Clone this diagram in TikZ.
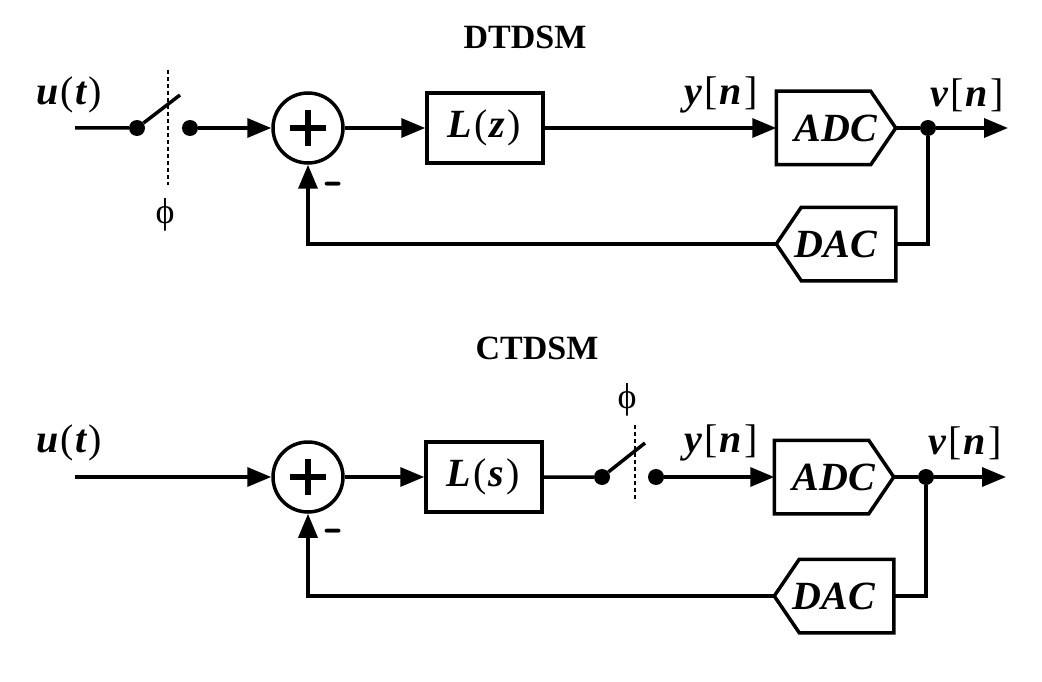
\documentclass[tikz,border=0pt]{standalone}
\usepackage{fontspec}
\setmainfont{Liberation Serif}
\usetikzlibrary{arrows.meta}
\tikzset{
  wire/.style = {line width=3.5pt},
  sig/.style = {wire, -{Triangle[length=24pt,width=19pt]}},
  blk/.style = {draw, line width=3.5pt, minimum width=116pt, minimum height=70pt,
    inner sep=0pt, font=\fontsize{40}{40}\selectfont\bfseries\itshape},% bloc
  conv/.style = {blk, draw=none},% convertisseur, contour trace a part
  sum/.style = {draw, circle, line width=3.5pt, minimum size=70pt, inner sep=0pt},% sommateur
  dot/.style = {circle, fill, inner sep=0pt, minimum size=16pt},
  lbl/.style = {font=\fontsize{40}{40}\selectfont\bfseries\itshape},
  neg/.style = {font=\fontsize{54}{54}\selectfont\bfseries\sffamily},
  ttl/.style = {font=\fontsize{34}{34}\selectfont\bfseries},
  phi/.style = {font=\fontsize{36}{36}\selectfont},
  clk/.style = {line width=1.6pt, dash pattern=on 4pt off 3pt}
}
\newcommand\pr[1]{{\normalfont\mdseries\upshape\kern2pt#1\kern2pt}}
\newcommand\adcshape[1]{\draw [wire] (#1.north west) -- ([xshift=-25pt]#1.north east)
  -- (#1.east) -- ([xshift=-25pt]#1.south east) -- (#1.south west) -- cycle;}
\newcommand\dacshape[1]{\draw [wire] (#1.north east) -- ([xshift=25pt]#1.north west)
  -- (#1.west) -- ([xshift=25pt]#1.south west) -- (#1.south east) -- cycle;}
\newcommand\plus[1]{\draw [line width=6pt] ([xshift=-18pt]#1.center) -- ([xshift=18pt]#1.center)
  ([yshift=-18pt]#1.center) -- ([yshift=18pt]#1.center);}
\begin{document}
\begin{tikzpicture}[x=1pt,y=-1pt]
\useasboundingbox (0,0) rectangle (1042,682);
% DTDSM
\node [ttl] (t1) at (525,37) {DTDSM};
\coordinate (in1) at (75,128);
\node [lbl] (u1) at (70,95) {u\pr{(}t\pr{)}};
\node [dot] (sa1) at (137,128) {};
\node [dot] (sb1) at (190,128) {};
\coordinate (sw1) at (180,95);
\coordinate (ca1) at (168,70);
\coordinate (cb1) at (168,185);
\node [phi] (p1) at (165,215) {ϕ};
\node [sum] (s1) at (308,128) {};
\node [neg] (m1) at (334,189) {-};
\node [blk] (l1) at (485,128) {L\pr{(}z\pr{)}};
\node [conv] (a1) at (836,128) {ADC};
\node [lbl] (y1) at (722,95) {y\pr{[}n\pr{]}};
\node [dot] (j1) at (928,128) {};
\coordinate (o1) at (1008,128);
\node [lbl] (v1) at (968,95) {v\pr{[}n\pr{]}};
\node [conv] (d1) at (836,244) {DAC};
\plus{s1}
\adcshape{a1}
\dacshape{d1}
\draw [wire] (in1) -- (sa1) -- (sw1);
\draw [clk] (ca1) -- (cb1);
\draw [sig] (sb1) -- (s1);
\draw [sig] (s1) -- (l1);
\draw [sig] (l1) -- (a1);
\draw [wire] (a1) -- (j1);
\draw [sig] (j1) -- (o1);
\draw [wire] (j1) |- (d1);
\draw [sig] (d1) -| (s1);
% CTDSM
\node [ttl] (t2) at (537,348) {CTDSM};
\coordinate (in2) at (75,477);
\node [lbl] (u2) at (70,443) {u\pr{(}t\pr{)}};
\node [sum] (s2) at (308,477) {};
\node [neg] (m2) at (334,536) {-};
\node [blk] (l2) at (484,477) {L\pr{(}s\pr{)}};
\node [dot] (sa2) at (602,477) {};
\node [dot] (sb2) at (656,477) {};
\coordinate (sw2) at (645,443);
\coordinate (ca2) at (635,425);
\coordinate (cb2) at (635,502);
\node [phi] (p2) at (627,400) {ϕ};
\node [conv] (a2) at (834,477) {ADC};
\node [lbl] (y2) at (722,443) {y\pr{[}n\pr{]}};
\node [dot] (j2) at (926,477) {};
\coordinate (o2) at (1006,477);
\node [lbl] (v2) at (966,443) {v\pr{[}n\pr{]}};
\node [conv] (d2) at (834,596) {DAC};
\plus{s2}
\adcshape{a2}
\dacshape{d2}
\draw [sig] (in2) -- (s2);
\draw [sig] (s2) -- (l2);
\draw [wire] (l2) -- (sa2) -- (sw2);
\draw [clk] (ca2) -- (cb2);
\draw [sig] (sb2) -- (a2);
\draw [wire] (a2) -- (j2);
\draw [sig] (j2) -- (o2);
\draw [wire] (j2) |- (d2);
\draw [sig] (d2) -| (s2);
\end{tikzpicture}
\end{document}
